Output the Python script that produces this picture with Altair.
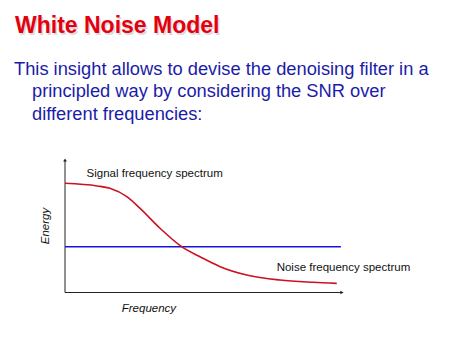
import altair as alt
import pandas as pd

FONT = "Liberation Sans"

# Slide text
title_text = "White Noise Model"
body_lines = [
    "This insight allows to devise the denoising filter in a",
    "principled way by considering the SNR over",
    "different frequencies:",
]

# Curve data (frequency in arbitrary units 0-100, energy 0-100)
freq = [0, 11.6, 16.2, 22.3, 27.1, 34.3, 42.1, 48.7, 56.0, 65.6, 77.6, 89.5, 98.1]
signal = [82.4, 80.4, 78.6, 72.3, 63.5, 48.5, 34.6, 27.0, 19.5, 13.2, 9.4, 7.7, 6.9]
noise_freq = [0, 99.6]
noise_level = [34.6, 34.6]

# Labels
label_text = ["Signal frequency spectrum", "Noise frequency spectrum"]
label_x = [7.8, 76.4]
label_y = [89.4, 18.3]
axis_titles = ["Frequency", "Energy"]

xs = alt.Scale(domain=[0, 100], range=[65, 342])
ys = alt.Scale(domain=[0, 100], range=[292.5, 160])

sig_df = pd.DataFrame({"f": freq, "e": signal})
noise_df = pd.DataFrame({"f": noise_freq, "e": noise_level})
lab_df = pd.DataFrame({"f": label_x, "e": label_y, "t": label_text})

X = lambda: alt.X("f:Q", scale=xs, axis=None)
Y = lambda: alt.Y("e:Q", scale=ys, axis=None)

signal_line = alt.Chart(sig_df).mark_line(
    color="#cc1122", strokeWidth=1.6, interpolate="monotone"
).encode(x=X(), y=Y())

noise_line = alt.Chart(noise_df).mark_line(color="#1414dd", strokeWidth=1.5).encode(
    x=X(), y=Y()
)

axes_df = pd.DataFrame({"f": [0, 0], "e": [0, 0], "f2": [100, 0], "e2": [0, 100]})
axes = alt.Chart(axes_df).mark_rule(color="#222222", strokeWidth=1).encode(
    x=X(), y=Y(), x2="f2:Q", y2="e2:Q"
)
arrow_x = alt.Chart(pd.DataFrame({"f": [100], "e": [0]})).mark_point(
    shape="triangle-right", filled=True, color="#222222", size=14, opacity=1
).encode(x=X(), y=Y())
arrow_y = alt.Chart(pd.DataFrame({"f": [0], "e": [100]})).mark_point(
    shape="triangle-up", filled=True, color="#222222", size=14, opacity=1
).encode(x=X(), y=Y())

labels = alt.Chart(lab_df).mark_text(
    font=FONT, fontSize=11.5, align="left", baseline="middle", color="#111111"
).encode(x=X(), y=Y(), text="t:N")

xtitle = alt.Chart(pd.DataFrame({"f": [30.3], "e": [-12.5], "t": [axis_titles[0]]})).mark_text(
    font=FONT, fontSize=11.5, fontStyle="italic", align="center", baseline="middle", color="#111111"
).encode(x=X(), y=Y(), text="t:N")
ytitle = alt.Chart(pd.DataFrame({"f": [-7.0], "e": [50.2], "t": [axis_titles[1]]})).mark_text(
    font=FONT, fontSize=11.5, fontStyle="italic", align="center", baseline="middle",
    angle=270, color="#111111"
).encode(x=X(), y=Y(), text="t:N")

title_shadow = alt.Chart(pd.DataFrame({"t": [title_text]})).mark_text(
    font=FONT, fontSize=23, fontWeight="bold", align="left", baseline="alphabetic",
    color="#9a9a9a", opacity=0.35
).encode(x=alt.value(16.5), y=alt.value(34.5), text="t:N")
title = alt.Chart(pd.DataFrame({"t": [title_text]})).mark_text(
    font=FONT, fontSize=23, fontWeight="bold", align="left", baseline="alphabetic",
    color="#e3000f"
).encode(x=alt.value(15), y=alt.value(33), text="t:N")

body_x = [14, 32, 32]
body_y = [74.5, 97, 119.5]
body = [
    alt.Chart(pd.DataFrame({"t": [line]})).mark_text(
        font=FONT, fontSize=18.3, align="left", baseline="alphabetic", color="#1c1ca8"
    ).encode(x=alt.value(bx), y=alt.value(by), text="t:N")
    for line, bx, by in zip(body_lines, body_x, body_y)
]

chart = alt.layer(
    axes, arrow_x, arrow_y, noise_line, signal_line, labels, xtitle, ytitle,
    title_shadow, title, *body
).properties(
    width=474, height=355, autosize=alt.AutoSizeParams(type="none"), padding=0,
    background="white"
).configure_view(stroke=None)

chart.save("out.html", embed_options={"renderer": "svg", "actions": False})
